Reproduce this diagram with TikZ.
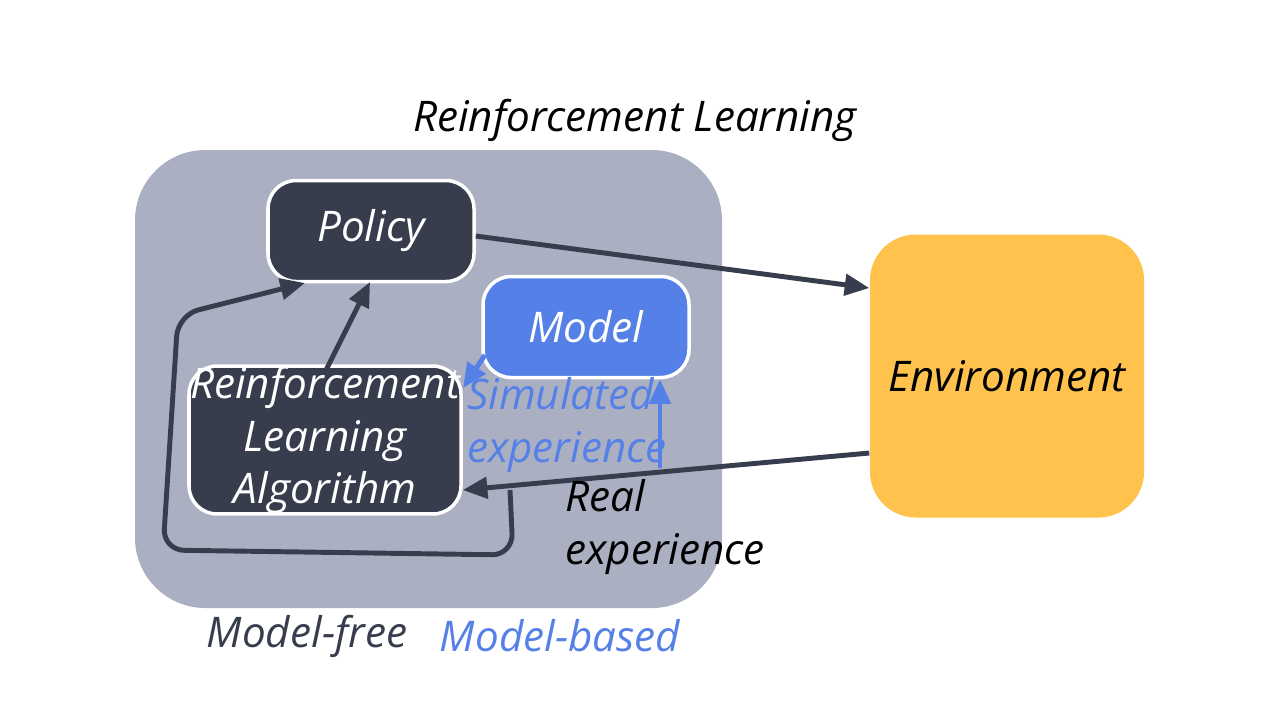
\documentclass[tikz,border=0pt]{standalone}
\usepackage{fontspec}
\setmainfont{Open Sans}
\usetikzlibrary{arrows.meta}
\definecolor{dk}{HTML}{373D4D}
\definecolor{gr}{HTML}{AAB0C2}
\definecolor{bl}{HTML}{5580E8}
\definecolor{yl}{HTML}{FFC34D}
\begin{document}
\begin{tikzpicture}[x=0.01cm,y=-0.01cm,
  box/.style={draw=white,line width=1pt,rounded corners=8pt,fill=dk,text=white,font=\itshape\fontsize{12}{15}\selectfont,align=center,inner sep=0pt},
  arr/.style={draw=dk,line width=1.4pt,-{Triangle[length=7pt,width=6pt]}},
  barr/.style={draw=bl,line width=1.4pt,-{Triangle[length=7pt,width=6pt]}},
  lab/.style={font=\itshape\fontsize{12}{15}\selectfont}]
\useasboundingbox (0,0) rectangle (1280,720);
\node[lab] (t) at (635,120) {Reinforcement Learning};
\path[fill=gr,rounded corners=20pt] (135,150) rectangle (722,608);
\node[box,minimum width=206*0.01cm,minimum height=101*0.01cm] (p) at (371,231) {Policy};
\node[box,fill=bl,minimum width=206*0.01cm,minimum height=101*0.01cm] (m) at (586,327) {Model};
\node[box,minimum width=272*0.01cm,minimum height=136*0.01cm] (a) at (325,440) {Reinforcement\\Learning\\Algorithm};
\node[rounded corners=13pt,fill=yl,minimum width=274*0.01cm,minimum height=283*0.01cm,font=\itshape\fontsize{12}{15}\selectfont] (e) at (1007,376) {Environment};
\coordinate (s) at (510,490);
\draw[arr] (p.east |- 0,236) -- (e.west |- 0,288);
\draw[arr] (e.west |- 0,453) -- (a.east |- 0,490);
\draw[arr] (325,372) -- (370,282);
\draw[arr,rounded corners=6pt] (s) -- (513,555) -- (163,550) -- (178,315) -- (305,283);
\draw[barr] (660,468) -- (m.south -| 660,0);
\draw[barr] (485,355) -- (463,388);
\node[lab,text=bl,align=left] (se) at (567,425) {Simulated\\experience};
\node[lab,align=left,anchor=west] (re) at (553,527) {Real\\experience};
\node[lab,text=dk] (mf) at (307,636) {Model-free};
\node[lab,text=bl] (mb) at (560,636) {Model-based};
\end{tikzpicture}
\end{document}
